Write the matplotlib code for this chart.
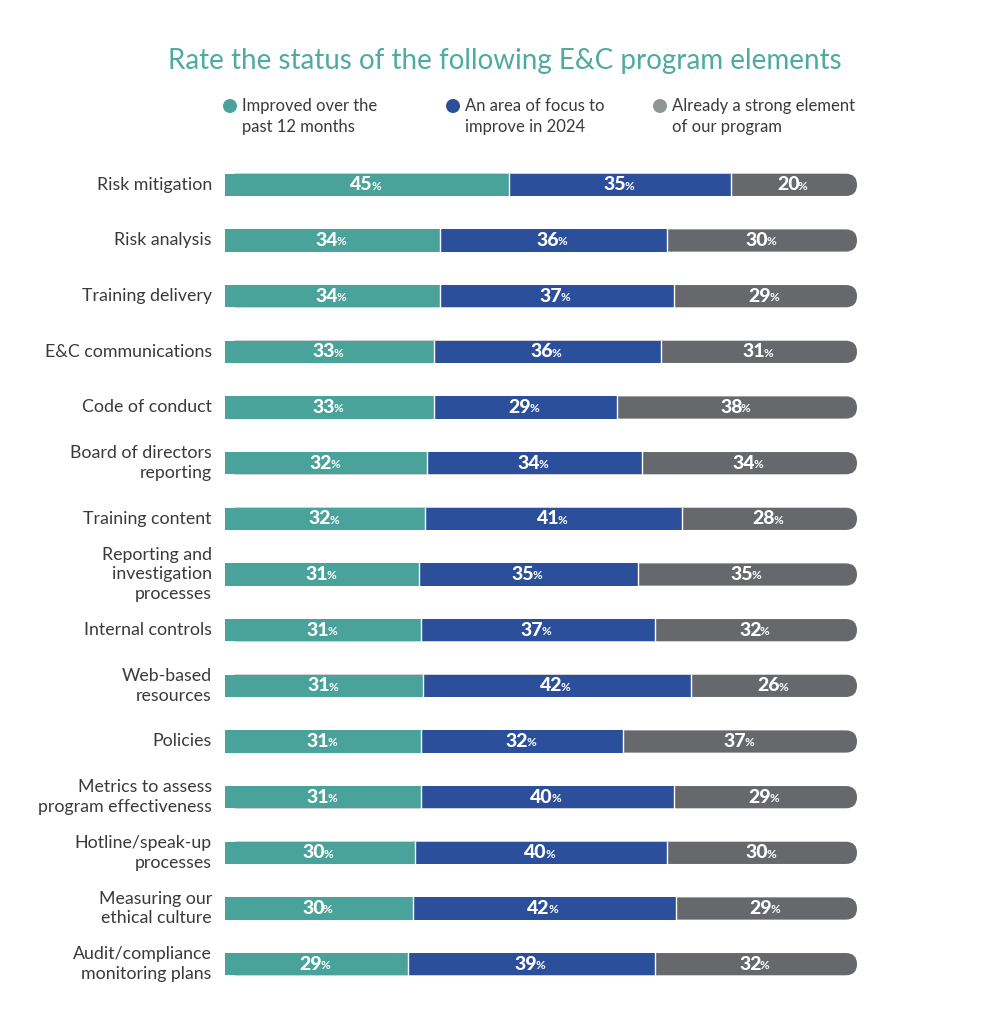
import matplotlib
matplotlib.use("Agg")
import matplotlib.pyplot as plt
from matplotlib.patches import FancyBboxPatch, Ellipse

plt.rcParams['font.family'] = ['Lato', 'DejaVu Sans']

categories = [
    "Risk mitigation", "Risk analysis", "Training delivery", "E&C communications",
    "Code of conduct", "Board of directors\nreporting", "Training content",
    "Reporting and\ninvestigation\nprocesses", "Internal controls", "Web-based\nresources",
    "Policies", "Metrics to assess\nprogram effectiveness", "Hotline/speak-up\nprocesses",
    "Measuring our\nethical culture", "Audit/compliance\nmonitoring plans",
]
improved = [45, 34, 34, 33, 33, 32, 32, 31, 31, 31, 31, 31, 30, 30, 29]
focus = [35, 36, 37, 36, 29, 34, 41, 35, 37, 42, 32, 40, 40, 42, 39]
strong = [20, 30, 29, 31, 38, 34, 28, 35, 32, 26, 37, 29, 30, 29, 32]
series_names = ["Improved over the\npast 12 months", "An area of focus to\nimprove in 2024",
                "Already a strong element\nof our program"]

C_TEAL = "#49A39A"
C_BLUE = "#2C4F9B"
C_GRAY = "#67686C"
C_LEG_GRAY = "#8E9594"
TITLE_C = "#4FAAA0"
TEXT_C = "#3A3A3A"

W, H = 996, 1014
fig = plt.figure(figsize=(W / 100, H / 100), dpi=100)
ax = fig.add_axes([225 / W, 1 - 992 / H, 632 / W, (992 - 157) / H])
n = len(categories)
ax.set_xlim(0, 100)
ax.set_ylim(n - 0.5, -0.5)
ax.axis("off")

bh = 0.40
fig.canvas.draw()
p0 = ax.transData.transform((0, 0))
p1 = ax.transData.transform((1, 1))
px_x = abs(p1[0] - p0[0])
px_y = abs(p1[1] - p0[1])
r_px = bh * px_y / 2
r_x = r_px / px_x
aspect = (r_px / px_y) / r_x

for i in range(n):
    tot = improved[i] + focus[i] + strong[i]
    a = improved[i] / tot * 100
    b = focus[i] / tot * 100
    bg = FancyBboxPatch((0, i - bh / 2), 100, bh,
                        boxstyle=f"round,pad=0,rounding_size={r_x}",
                        mutation_aspect=aspect, fc=C_GRAY, ec="none", zorder=1)
    ax.add_patch(bg)
    ax.barh(i, a, left=0, height=bh, color=C_TEAL, edgecolor="none", zorder=2)
    ax.barh(i, b, left=a, height=bh, color=C_BLUE, edgecolor="none", zorder=2)
    for xb in (a, a + b):
        ax.plot([xb, xb], [i - bh / 2, i + bh / 2], color="white", lw=1.0, zorder=3)
    centers = [a / 2, a + b / 2, a + b + (100 - a - b) / 2]
    for cx, v in zip(centers, [improved[i], focus[i], strong[i]]):
        t = ax.annotate(str(v), xy=(cx, i), xytext=(-4, 0), textcoords="offset points",
                        ha="center", va="center", color="white", fontsize=14,
                        fontweight="black", zorder=4)
        ax.annotate("%", xy=(1, 0.1), xycoords=t, xytext=(-1.2, 0), textcoords="offset points",
                    ha="left", va="bottom", color="white", fontsize=8.5,
                    fontweight="bold", zorder=4)
    ax.annotate(categories[i], xy=(0, i), xytext=(-9.5, 0), textcoords="offset points",
                ha="right", va="center", color=TEXT_C, fontsize=12.8,
                linespacing=1.27, annotation_clip=False)

fig.text(505 / W, 1 - 61 / H, "Rate the status of the following E&C program elements",
         ha="center", va="center", color=TITLE_C, fontsize=20, fontweight="normal")

leg_x = [230, 453, 660]
leg_c = [C_TEAL, C_BLUE, C_LEG_GRAY]
for x, c, name in zip(leg_x, leg_c, series_names):
    fig.patches.append(Ellipse((x / W, 1 - 106 / H), 14 / W, 14 / H,
                               transform=fig.transFigure, fc=c, ec="none"))
    fig.text((x + 12) / W, 1 - 98 / H, name, ha="left", va="top", color=TEXT_C,
             fontsize=12, linespacing=1.4)

fig.savefig("out.png", dpi=100, facecolor="white")
